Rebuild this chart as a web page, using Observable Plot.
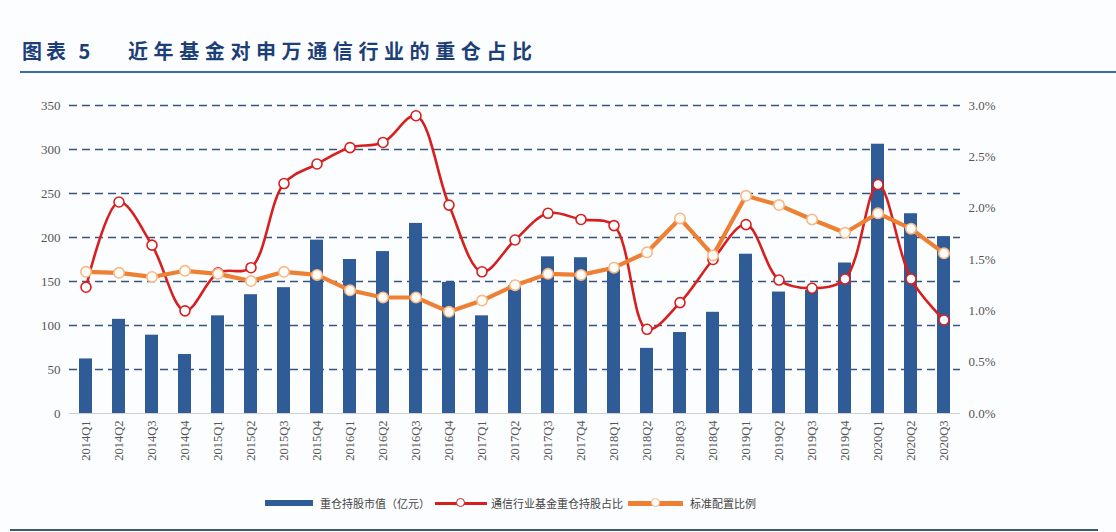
<!DOCTYPE html>
<html>
<head>
<meta charset="utf-8">
<script src="https://cdn.jsdelivr.net/npm/d3@7"></script>
<script src="https://cdn.jsdelivr.net/npm/@observablehq/plot@0.6"></script>
<style>
  html, body { margin: 0; padding: 0; background: #fcfdfe; }
  #page { position: relative; width: 1116px; height: 532px; overflow: hidden; background: #fcfdfe; font-family: "Noto Sans CJK SC", sans-serif; }
  .title { position: absolute; top: 37px; font-size: 20px; font-weight: 700; color: #1d3f78; white-space: pre; line-height: 28px; }
  #titleA { left: 22px; letter-spacing: 4px; }
  #titleB { left: 128px; letter-spacing: 5.6px; }
  #titleRule { position: absolute; left: 20px; right: 0; top: 71px; height: 2px; background: #3f6ca8; }
  #bottomRule { position: absolute; left: 10px; width: 1088px; top: 529px; height: 2px; background: #3d5a6e; }
  #chart { position: absolute; left: 0; top: 90px; }
  #legend { position: absolute; top: 494px; left: 265px; height: 18px; display: flex; align-items: center; font-size: 11px; color: #444; white-space: nowrap; }
  .sw { position: relative; display: inline-block; height: 18px; }
  .item { display: flex; align-items: center; }
</style>
</head>
<body>
<div id="page">
  <div id="titleA" class="title"></div>
  <div id="titleB" class="title"></div>
  <div id="titleRule"></div>
  <div id="chart"></div>
  <div id="legend"></div>
  <div id="bottomRule"></div>
</div>
<script>
const titleLabel = "图表 5";
const titleText = "近年基金对申万通信行业的重仓占比";
const quarters = ["2014Q1","2014Q2","2014Q3","2014Q4","2015Q1","2015Q2","2015Q3","2015Q4","2016Q1","2016Q2","2016Q3","2016Q4","2017Q1","2017Q2","2017Q3","2017Q4","2018Q1","2018Q2","2018Q3","2018Q4","2019Q1","2019Q2","2019Q3","2019Q4","2020Q1","2020Q2","2020Q3"];
const holdingValue = [62,107,89,67,111,135,143,197,175,184,216,149,111,145,178,177,164,74,92,115,181,138,140,171,306,227,201];
const telecomShare = [1.23,2.06,1.64,1.00,1.37,1.42,2.24,2.43,2.59,2.64,2.90,2.03,1.38,1.69,1.95,1.89,1.83,0.82,1.08,1.50,1.84,1.30,1.22,1.31,2.23,1.31,0.91];
const standardShare = [1.38,1.37,1.33,1.39,1.36,1.29,1.38,1.35,1.20,1.13,1.13,0.99,1.10,1.25,1.36,1.35,1.42,1.57,1.90,1.54,2.12,2.03,1.89,1.76,1.95,1.80,1.56];
const leftTicks = [0,50,100,150,200,250,300,350];
const rightTicks = [0,0.5,1.0,1.5,2.0,2.5,3.0];
const seriesNames = ["重仓持股市值（亿元）","通信行业基金重仓持股占比","标准配置比例"];

const LEFT_MAX = 350, RIGHT_MAX = 3.0;
const k = LEFT_MAX / RIGHT_MAX;

document.getElementById("titleA").textContent = titleLabel;
document.getElementById("titleB").textContent = titleText;

const data = quarters.map((q, i) => ({q, v: holdingValue[i], a: telecomShare[i], b: standardShare[i]}));

const axisFont = "'Liberation Serif', 'DejaVu Serif', serif";
const red = "#d71f1f", orange = "#ee8033", blue = "#2f5b97";

const chart = Plot.plot({
  width: 1116,
  height: 400,
  marginTop: 15,
  marginBottom: 77,
  marginLeft: 69,
  marginRight: 156,
  style: {background: "transparent", fontFamily: axisFont, color: "#555"},
  x: {domain: quarters, paddingInner: 0.6, paddingOuter: 0.3, label: null},
  y: {domain: [0, LEFT_MAX], label: null},
  marks: [
    Plot.gridY(leftTicks.filter(d => d > 0), {stroke: "#38557f", strokeOpacity: 1, strokeWidth: 1.6, strokeDasharray: "8,5"}),
    Plot.ruleY([0], {stroke: "#cfcfcf", strokeWidth: 1}),
    Plot.barY(data, {x: "q", y: "v", fill: blue}),
    Plot.line(data, {x: "q", y: d => d.a * k, stroke: red, strokeWidth: 2.6, curve: "catmull-rom"}),
    Plot.dot(data, {x: "q", y: d => d.a * k, r: 5, fill: "white", stroke: red, strokeWidth: 1.6}),
    Plot.line(data, {x: "q", y: d => d.b * k, stroke: orange, strokeWidth: 4.2}),
    Plot.dot(data, {x: "q", y: d => d.b * k, r: 5.2, fill: "#fffdf8", stroke: "#f6b98a", strokeWidth: 1.6}),
    Plot.axisY(leftTicks, {anchor: "left", tickSize: 0, tickPadding: 9, fontSize: 13, fill: "#555", label: null}),
    Plot.axisY(rightTicks.map(t => t * k), {anchor: "right", tickSize: 0, tickPadding: 8, fontSize: 13, fill: "#555", label: null,
      tickFormat: d => (d / k).toFixed(1) + "%"}),
    Plot.axisX({tickRotate: -90, tickSize: 0, tickPadding: 7, fontSize: 12.5, fill: "#555", label: null})
  ]
});
document.getElementById("chart").appendChild(chart);

// Legend
const legend = document.getElementById("legend");
function swatch(color, w, h, marker, mstroke) {
  const s = document.createElement("span");
  s.className = "sw";
  s.style.width = w + "px";
  const line = document.createElement("span");
  line.style.cssText = `position:absolute;left:0;top:${9 - h/2}px;width:${w}px;height:${h}px;background:${color};`;
  s.appendChild(line);
  if (marker) {
    const c = document.createElement("span");
    c.style.cssText = `position:absolute;left:${w/2 - 5}px;top:4px;width:7px;height:7px;border-radius:50%;background:#fff;border:1.6px solid ${mstroke};`;
    s.appendChild(c);
  }
  return s;
}
const items = [
  {sw: swatch(blue, 48, 6, false), gapAfterSw: 7},
  {sw: swatch(red, 52, 3, true, red), gapAfterSw: 4},
  {sw: swatch(orange, 55, 5, true, "#f6b98a"), gapAfterSw: 7}
];
items.forEach((it, i) => {
  const d = document.createElement("span");
  d.className = "item";
  d.appendChild(it.sw);
  const t = document.createElement("span");
  t.textContent = seriesNames[i];
  t.style.marginLeft = it.gapAfterSw + "px";
  t.style.marginRight = "5px";
  d.appendChild(t);
  legend.appendChild(d);
});
</script>
</body>
</html>
